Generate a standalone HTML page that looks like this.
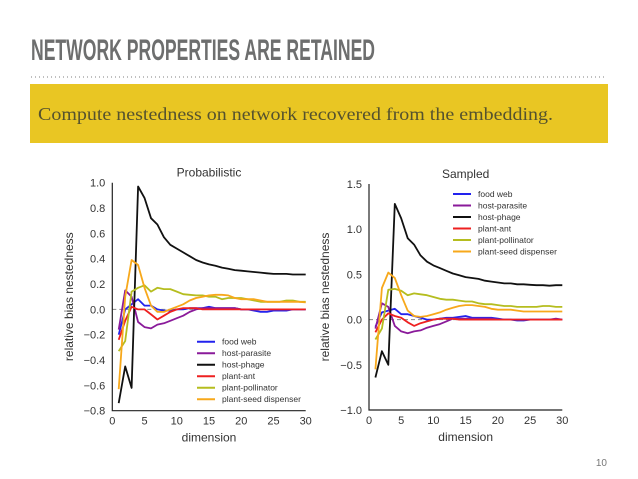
<!DOCTYPE html>
<html><head><meta charset="utf-8"><style>
html,body{margin:0;padding:0;background:#fff;}
svg{display:block;font-family:"Liberation Sans",sans-serif;}
</style></head><body>
<svg id="s" width="638" height="479" viewBox="0 0 638 479">
<text x="31" y="60" font-size="30" font-weight="bold" fill="#6d6e6e" textLength="344" lengthAdjust="spacingAndGlyphs">NETWORK PROPERTIES ARE RETAINED</text>
<line x1="31" y1="77" x2="607" y2="77" stroke="#999" stroke-width="1.2" stroke-dasharray="1,3"/>
<rect x="30" y="84" width="578" height="59" fill="#e9c623"/>
<text x="38" y="120" font-family="Liberation Serif,serif" font-size="17.5" fill="#55522e" textLength="515" lengthAdjust="spacingAndGlyphs">Compute nestedness on network recovered from the embedding.</text>
<text x="607" y="466" font-size="10" fill="#777" text-anchor="end">10</text>
<g id="c1"></g>
<g id="c2"></g>
</svg>
<script>
const dims = Array.from({length:30},(_,i)=>i+1);
const seriesNames = ["food web","host-parasite","host-phage","plant-ant","plant-pollinator","plant-seed dispenser"];
const seriesColors = ["#2222ee","#8a1a9a","#111111","#ee2020","#b5bd1f","#f7a81b"];
const probFoodWeb = [-0.2,0,0.04,0.08,0.03,0.03,0,-0.01,-0.01,0,0,0.01,0.01,0.01,0.02,0.01,0.01,0.01,0.01,0,0,-0.01,-0.02,-0.02,-0.01,-0.01,-0.01,0,0,0];
const probHostParasite = [-0.16,0.15,0.1,-0.1,-0.14,-0.15,-0.12,-0.11,-0.09,-0.07,-0.05,-0.02,0,0.01,0.01,0.01,0.01,0.01,0.01,0,0,0,0,0,0,0,0,0,0,0];
const probHostPhage = [-0.74,-0.45,-0.62,0.97,0.88,0.72,0.67,0.57,0.51,0.48,0.45,0.42,0.39,0.37,0.355,0.345,0.33,0.32,0.31,0.305,0.3,0.295,0.29,0.285,0.28,0.28,0.28,0.275,0.275,0.275];
const probPlantAnt = [-0.24,-0.09,0.02,0,0,-0.04,-0.08,-0.05,-0.02,0,0.01,0.01,0.01,0,0,0,0,0,0,0,0,0,0,0,0,0,0,0,0,0];
const probPollinator = [-0.33,-0.25,0.14,0.17,0.19,0.14,0.17,0.16,0.16,0.14,0.12,0.115,0.11,0.11,0.1,0.1,0.08,0.09,0.09,0.09,0.08,0.07,0.06,0.06,0.06,0.06,0.07,0.07,0.06,0.06];
const probSeed = [-0.63,0.1,0.39,0.35,0.17,0.03,-0.02,-0.02,0,0.02,0.04,0.07,0.09,0.1,0.11,0.115,0.115,0.11,0.09,0.08,0.08,0.08,0.07,0.06,0.06,0.06,0.06,0.06,0.06,0.055];
const sampFoodWeb = [-0.08,0.08,0.1,0.12,0.06,0.06,0.04,0.02,0,0,0.01,0.02,0.02,0.03,0.04,0.02,0.02,0.02,0.02,0.01,0,0,-0.01,-0.01,0,0,0,0,0,0];
const sampHostParasite = [-0.1,0.18,0.14,-0.07,-0.13,-0.15,-0.13,-0.12,-0.09,-0.07,-0.05,-0.02,0.01,0.01,0.01,0.01,0.01,0.01,0.01,0,0,0,0,0,0,0,0,0,0.01,0];
const sampHostPhage = [-0.64,-0.35,-0.5,1.28,1.12,0.9,0.83,0.71,0.64,0.6,0.57,0.54,0.51,0.49,0.47,0.46,0.45,0.43,0.42,0.41,0.4,0.4,0.39,0.39,0.385,0.38,0.38,0.375,0.38,0.38];
const sampPlantAnt = [-0.14,0,0.07,0.04,0.02,-0.03,-0.07,-0.04,-0.02,0,0.01,0.01,0.01,0,0,0,0,0,0,0,0,0,0,0,0,0,0,0,0,0];
const sampPollinator = [-0.22,-0.1,0.33,0.34,0.32,0.27,0.29,0.28,0.27,0.25,0.23,0.22,0.22,0.21,0.2,0.2,0.18,0.17,0.17,0.16,0.15,0.15,0.14,0.14,0.14,0.14,0.15,0.15,0.14,0.14];
const sampSeed = [-0.55,0.35,0.52,0.46,0.27,0.1,0.04,0.03,0.04,0.06,0.08,0.11,0.13,0.15,0.16,0.16,0.15,0.14,0.12,0.11,0.11,0.11,0.1,0.09,0.09,0.09,0.09,0.09,0.09,0.09];
const xTicks = [0,5,10,15,20,25,30];
const probYTicks = [-0.8,-0.6,-0.4,-0.2,0,0.2,0.4,0.6,0.8,1.0];
const sampYTicks = [-1.0,-0.5,0,0.5,1.0,1.5];

const NS="http://www.w3.org/2000/svg";
function mk(p,t,a){const e=document.createElementNS(NS,t);for(const k in a)e.setAttribute(k,a[k]);p.appendChild(e);return e;}
function chart(g,cfg){
  const sx=v=>cfg.x0+(v-0)/30*(cfg.x1-cfg.x0);
  const sy=v=>cfg.yb+(v-cfg.ymin)/(cfg.ymax-cfg.ymin)*(cfg.yt-cfg.yb);
  const t=mk(g,'text',{x:(cfg.x0+cfg.x1)/2,y:cfg.yt-6,'font-size':12,'text-anchor':'middle',fill:'#333'});t.textContent=cfg.title;
  
  
  const z=mk(g,'line',{x1:cfg.x0,x2:cfg.x1,y1:sy(0),y2:sy(0),stroke:'#888','stroke-dasharray':'4,3','stroke-width':1});
  
  
  const ax=mk(g,'path',{d:`M${cfg.x0},${cfg.yt}V${cfg.yb}H${cfg.x1}`,fill:'none',stroke:'#222','stroke-width':1.2});
  
  
  xTicks.forEach(v=>{const e=mk(g,'text',{x:sx(v),y:cfg.yb+14,'font-size':11,'text-anchor':'middle',fill:'#333'});e.textContent=v;
    
    });
  cfg.yticks.forEach(v=>{const e=mk(g,'text',{x:cfg.x0-7,y:sy(v)+4,'font-size':11,'text-anchor':'end',fill:'#333'});e.textContent=(v<0?'\u2212':'')+Math.abs(v).toFixed(1);
    
    });
  const xt=mk(g,'text',{x:(cfg.x0+cfg.x1)/2,y:cfg.yb+31,'font-size':12,'text-anchor':'middle',fill:'#333'});xt.textContent='dimension';
  
  
  const ym=(cfg.yt+cfg.yb)/2;
  const yt=mk(g,'text',{x:cfg.ytx,y:ym,'font-size':12,'text-anchor':'middle',fill:'#333',transform:`rotate(-90 ${cfg.ytx} ${ym})`});yt.textContent='relative bias nestedness';
  
  
  cfg.series.forEach((s,i)=>{
    const d=s.map((v,j)=>(j?'L':'M')+sx(dims[j]).toFixed(1)+','+sy(v).toFixed(1)).join('');
    const p=mk(g,'path',{d:d,fill:'none',stroke:seriesColors[i],'stroke-width':1.8,'stroke-linejoin':'round'});
    
    
    const ly=cfg.ly+i*11.5;
    const l=mk(g,'line',{x1:cfg.lx,x2:cfg.lx+18,y1:ly,y2:ly,stroke:seriesColors[i],'stroke-width':2});
    
    
    const lt=mk(g,'text',{x:cfg.lx+25,y:ly+3,'font-size':8.5,fill:'#333'});lt.textContent=seriesNames[i];
    
    
  });
}
chart(document.getElementById('c1'),{title:'Probabilistic',x0:112.3,x1:305.7,yt:182.7,yb:410.7,ymin:-0.8,ymax:1.0,yticks:probYTicks,ytx:73,lx:197,ly:341.7,
  series:[probFoodWeb,probHostParasite,probHostPhage,probPlantAnt,probPollinator,probSeed]});
chart(document.getElementById('c2'),{title:'Sampled',x0:369,x1:562.3,yt:184,yb:410,ymin:-1.0,ymax:1.5,yticks:sampYTicks,ytx:329,lx:453,ly:194,
  series:[sampFoodWeb,sampHostParasite,sampHostPhage,sampPlantAnt,sampPollinator,sampSeed]});
</script>
</body></html>
